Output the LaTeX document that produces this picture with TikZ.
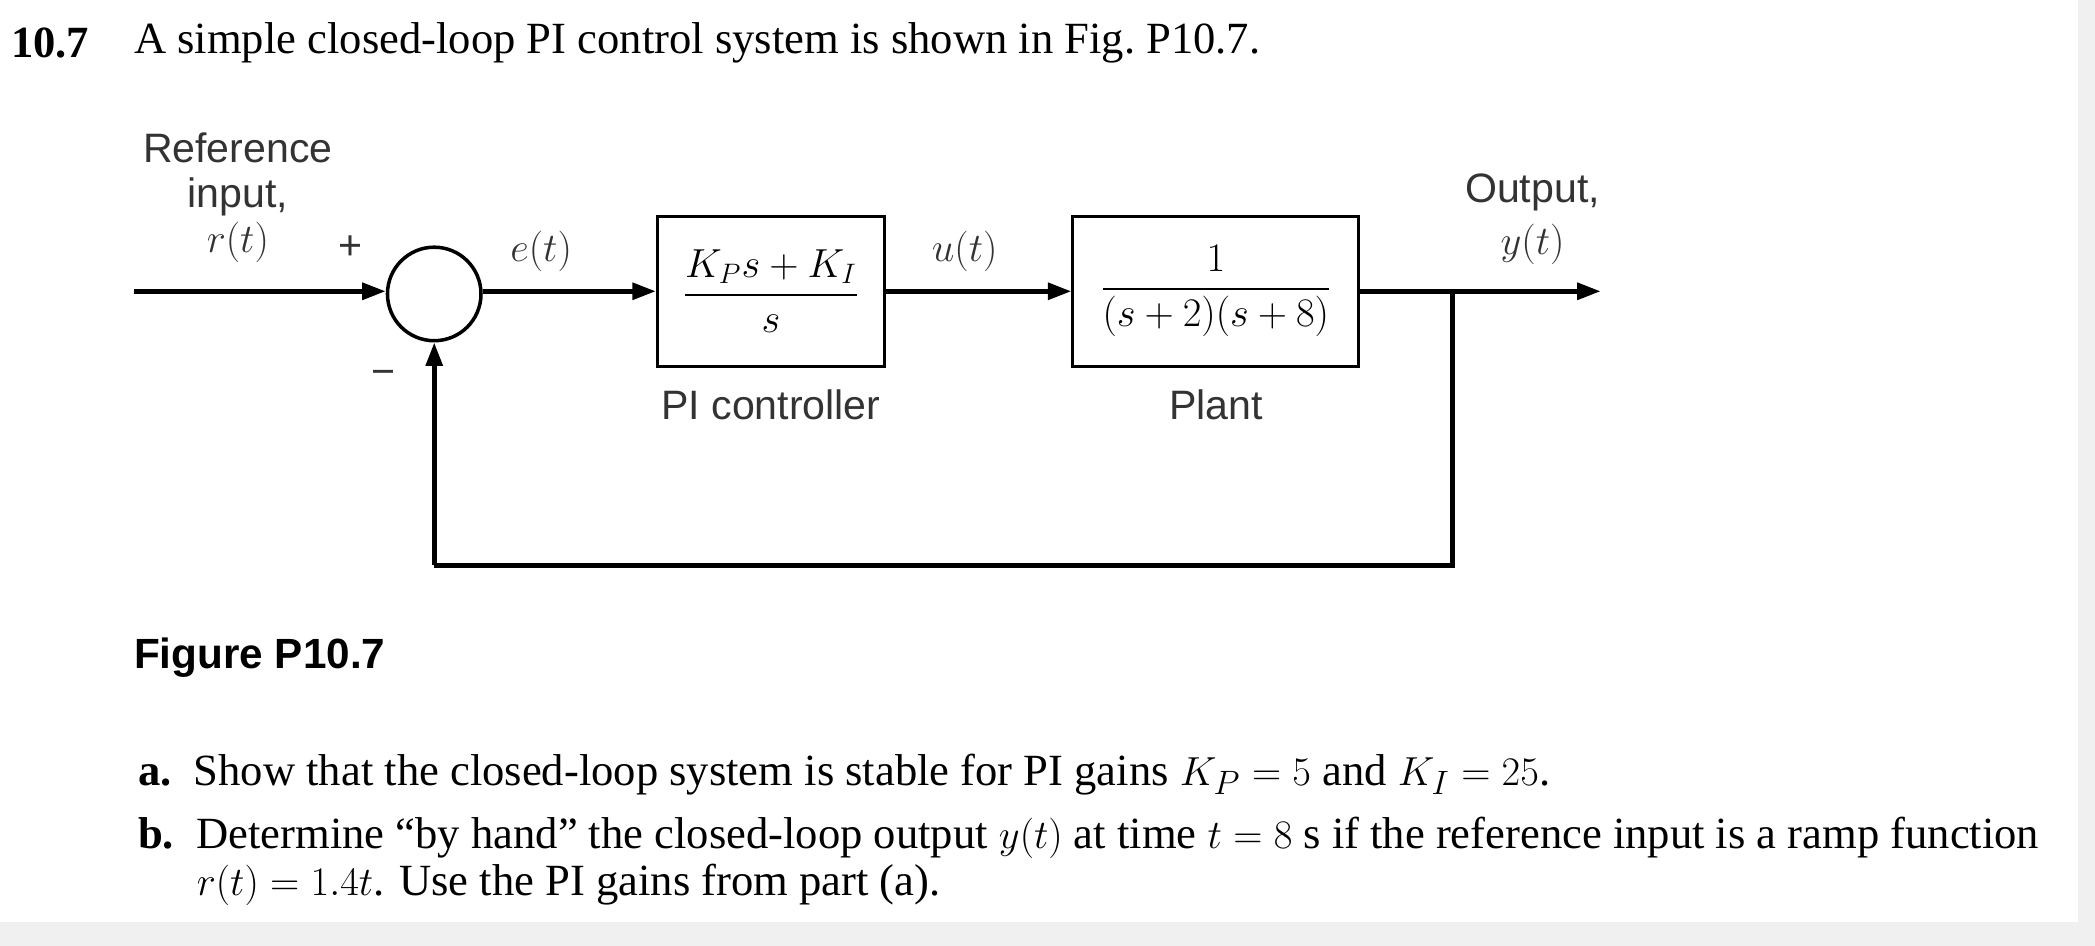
\documentclass[tikz,border=0pt]{standalone}
\usepackage{fontspec}
\setmainfont{Liberation Serif}
\setsansfont{Liberation Sans}
\usepackage{amsmath}
\usetikzlibrary{arrows.meta}
\begin{document}
\begin{tikzpicture}[x=0.02cm,y=-0.02cm,
  txt/.style={inner sep=0pt,font=\fontsize{19}{22}\selectfont},
  lab/.style={inner sep=0pt,font=\sffamily\fontsize{17.5}{20}\selectfont,text=black!80},
  blk/.style={draw,line width=1.3pt,minimum width=170*0.02cm,minimum height=112*0.02cm,inner sep=0pt},
  sig/.style={line width=2pt,-{Triangle[length=10pt,width=7pt]}},
  ln/.style={line width=2pt}]
\fill[black!6] (0,0) rectangle (1568,708);
\fill[white] (0,0) rectangle (1555,690);
\node[txt,anchor=west,font=\bfseries\fontsize{19}{22}\selectfont] (num) at (8,32) {10.7};
\node[txt,anchor=west] (title) at (100,32) {A simple closed-loop PI control system is shown in Fig.\ P10.7.};
\node[lab,align=center] (ref) at (178,148) {Reference\\[-1pt]input,\\[-1pt]$r(t)$};
\node[lab] (plus) at (262,185) {+};
\node[lab] (minus) at (287,283) {\textminus};
\coordinate (in) at (100,218);
\node[draw,circle,line width=1.5pt,minimum size=70*0.02cm,inner sep=0pt] (sum) at (325,220) {};
\node[lab] (e) at (405,188) {$e(t)$};
\node[blk] (ctrl) at (577,218) {\fontsize{17}{20}\selectfont$\dfrac{K_Ps+K_I}{s}$};
\node[lab] (u) at (722,188) {$u(t)$};
\node[blk,minimum width=214*0.02cm] (plant) at (910,218) {\fontsize{17}{20}\selectfont$\dfrac{1}{(s+2)(s+8)}$};
\node[lab,align=center] (outl) at (1147,164) {Output,\\[2pt]$y(t)$};
\node[lab] (pic) at (577,303) {PI controller};
\node[lab] (pl) at (910,303) {Plant};
\coordinate (out) at (1198,218);
\coordinate (br) at (1087,218);
\coordinate (c1) at (1087,423);
\coordinate (c2) at (325,423);
\draw[sig] (in) -- (sum.west|-in);
\draw[sig] (sum.east|-in) -- (ctrl.west|-in);
\draw[sig] (ctrl.east|-in) -- (plant.west|-in);
\draw[sig] (plant.east|-in) -- (out);
\draw[ln] (br) -- (c1) -- (c2);
\draw[sig] (c2) -- (sum.south);
\node[anchor=west,inner sep=0pt,font=\sffamily\bfseries\fontsize{18}{21}\selectfont] (fig) at (100,492) {Figure P10.7};
\node[txt,anchor=west] (a) at (103,580) {\textbf{a.}\ \ Show that the closed-loop system is stable for PI gains $K_P=5$ and $K_I=25$.};
\node[txt,anchor=west] (b) at (103,627) {\textbf{b.}\ \ Determine ``by hand'' the closed-loop output $y(t)$ at time $t=8$ s if the reference input is a ramp function};
\node[txt,anchor=west] (b2) at (147,662) {$r(t)=1.4t$. Use the PI gains from part (a).};
\end{tikzpicture}
\end{document}
